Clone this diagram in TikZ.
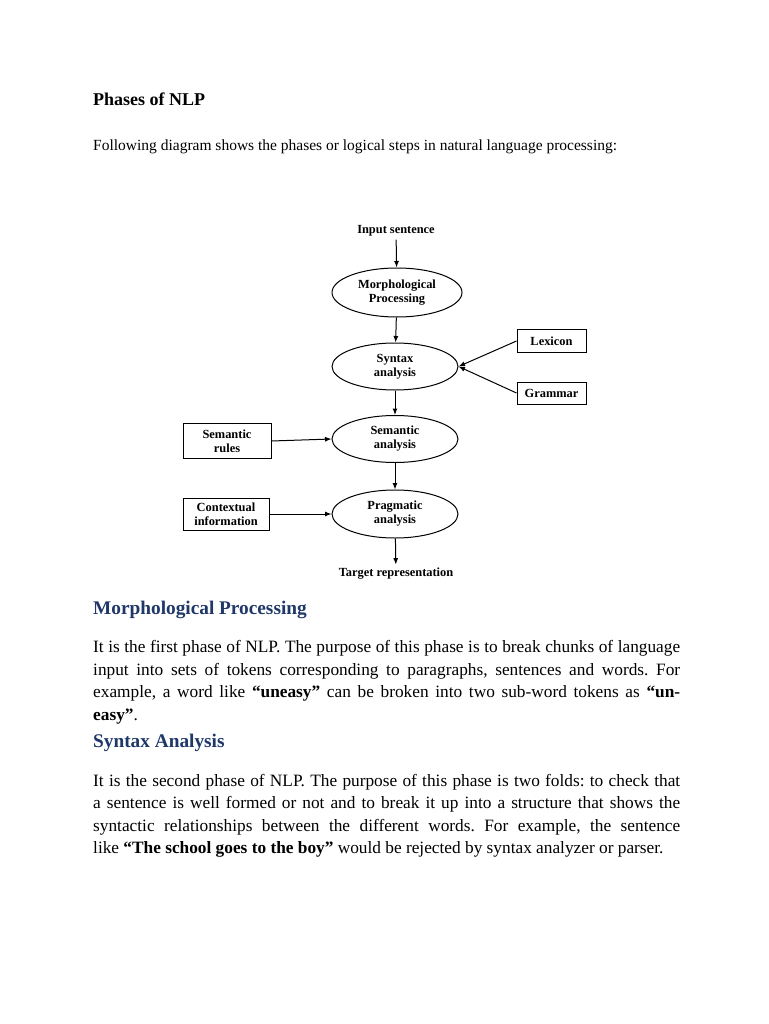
\documentclass[tikz,border=0pt]{standalone}
\usepackage{fontspec}
\setmainfont{Liberation Serif}
\usetikzlibrary{shapes.geometric,arrows.meta}
\definecolor{headblue}{RGB}{31,56,105}
\frenchspacing
\begin{document}
\begin{tikzpicture}[x=1pt,y=-1pt,
  phasenode/.style={ellipse, draw, line width=1pt, minimum width=126pt, minimum height=47pt, inner sep=0pt, align=center, font=\bfseries\fontsize{12.4}{14}\selectfont},
  srcbox/.style={rectangle, draw, line width=1pt, inner sep=0pt, align=center, font=\bfseries\fontsize{12.4}{14}\selectfont},
  plain/.style={inner sep=0pt, font=\bfseries\fontsize{12.4}{14}\selectfont},
  flow/.style={-{Latex[length=6.5pt,width=5pt]}, line width=1pt},
  bodyline/.style={anchor=base west, inner sep=0pt, font=\fontsize{17.3}{22.4}\selectfont},
  headline/.style={anchor=base west, inner sep=0pt, text=headblue, font=\bfseries\fontsize{19.3}{22}\selectfont}
]
\useasboundingbox (0,0) rectangle (768,1024);
\fill[white] (0,0) rectangle (768,1024);

% title and intro
\node[anchor=base west, inner sep=0pt, font=\bfseries\fontsize{18}{20}\selectfont] (title) at (93,106) {Phases of NLP};
\node[anchor=base west, inner sep=0pt, font=\fontsize{15.5}{18}\selectfont] (intro) at (93,151) {Following diagram shows the phases or logical steps in natural language processing:};

% diagram
\node[plain, inner sep=3pt] (input) at (396,231) {Input sentence};
\node[phasenode, minimum width=130pt, minimum height=49pt] (morph) at (397,292.5) {Morphological\\Processing};
\node[phasenode] (syn) at (395,366.5) {Syntax\\analysis};
\node[phasenode] (sem) at (395,439) {Semantic\\analysis};
\node[phasenode, minimum height=48pt] (prag) at (395,514) {Pragmatic\\analysis};
\node[plain, inner sep=3pt] (target) at (396,573.5) {Target representation};

\node[srcbox, minimum width=69pt, minimum height=23pt] (lex) at (551.5,341) {Lexicon};
\node[srcbox, minimum width=69pt, minimum height=22pt] (gram) at (551.5,393) {Grammar};
\node[srcbox, minimum width=88pt, minimum height=35pt] (rules) at (227,441) {Semantic\\rules};
\node[srcbox, minimum width=86pt, minimum height=32pt] (ctx) at (226,514) {Contextual\\information};

\draw[flow] (input) -- (morph);
\draw[flow] (morph) -- (syn);
\draw[flow] (syn) -- (sem);
\draw[flow] (sem) -- (prag);
\draw[flow] (prag) -- (target);
\draw[flow] (lex.west) -- (syn.east);
\draw[flow] (gram.west) -- (syn.east);
\draw[flow] (rules.east) -- (sem.west);
\draw[flow] (ctx.east) -- (prag.west);

% Morphological Processing
\node[headline] (h1) at (93,614) {Morphological Processing};
\node[bodyline] (p1a) at (93,652.5) {\makebox[587pt][s]{It is the first phase of NLP. The purpose of this phase is to break chunks of language}};
\node[bodyline] (p1b) at (93,675) {\makebox[587pt][s]{input into sets of tokens corresponding to paragraphs, sentences and words. For}};
\node[bodyline] (p1c) at (93,697.5) {\makebox[587pt][s]{example, a word like \textbf{“uneasy”} can be broken into two sub-word tokens as \textbf{“un-}}};
\node[bodyline] (p1d) at (93,720) {\textbf{easy”}.};

% Syntax Analysis
\node[headline] (h2) at (93,747) {Syntax Analysis};
\node[bodyline] (p2a) at (93,786) {\makebox[587pt][s]{It is the second phase of NLP. The purpose of this phase is two folds: to check that}};
\node[bodyline] (p2b) at (93,808.5) {\makebox[587pt][s]{a sentence is well formed or not and to break it up into a structure that shows the}};
\node[bodyline] (p2c) at (93,831) {\makebox[587pt][s]{syntactic relationships between the different words. For example, the sentence}};
\node[bodyline] (p2d) at (93,853.5) {like \textbf{“The school goes to the boy”} would be rejected by syntax analyzer or parser.};
\end{tikzpicture}
\end{document}
